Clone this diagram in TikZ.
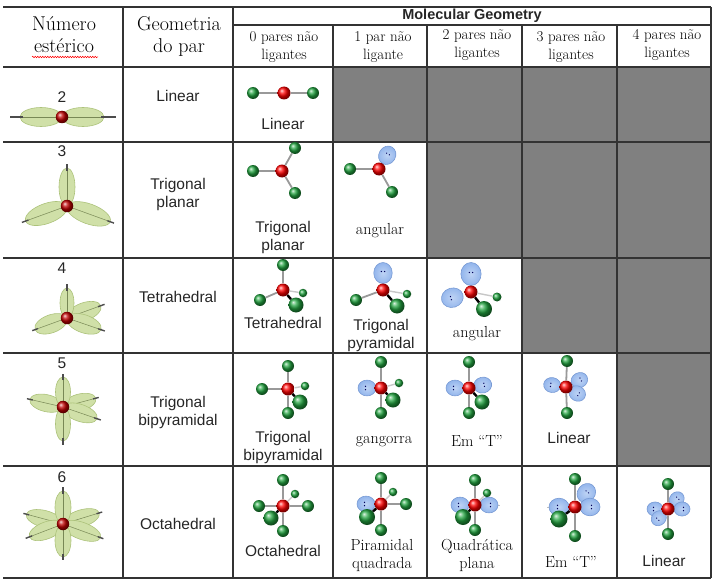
\documentclass[tikz,border=0pt]{standalone}
\usepackage{fontspec}
\newfontfamily\arial{Liberation Sans}
\usetikzlibrary{decorations.pathmorphing}
\definecolor{lobefill}{RGB}{208,224,168}
\definecolor{lobeedge}{RGB}{172,194,122}
\definecolor{atomgreen}{RGB}{34,165,64}
\definecolor{lpfill}{RGB}{146,181,236}
\definecolor{lpedge}{RGB}{120,154,212}
\tikzset{
  grid/.style={line width=1.7pt, black!80},
  blank/.style={fill=black!50},
  big/.style={anchor=base, font=\fontsize{20}{22}\selectfont},
  sub/.style={anchor=base, font=\fontsize{15}{18}\selectfont},
  tx/.style={anchor=base, font=\fontsize{16}{18}\selectfont},
  ar/.style={anchor=base, text=black!85, font=\arial\fontsize{15.5}{18}\selectfont},
  lobe/.style={fill=lobefill, draw=lobeedge, line width=0.6pt},
  lobeaxis/.style={draw=lobeedge!70!black, line width=0.5pt},
  stick/.style={draw=black!70, line width=1.4pt},
  core/.style={circle, inner sep=0pt, minimum size=12.5pt, ball color=red!75!black},
  ra/.style={circle, inner sep=0pt, minimum size=13pt, ball color=red},
  ga/.style={circle, inner sep=0pt, minimum size=#1, ball color=atomgreen},
  ga/.default=12pt,
  bond/.style={draw=black!40, line width=1.8pt},
  back/.style={draw=black!22, line width=1.4pt},
  wedge/.style={draw=black, line width=2.4pt},
  lp/.style={draw=lpedge, line width=0.6pt, inner color=lpfill!60!white, outer color=lpfill},
  lpaxis/.style={draw=black!25, line width=1pt}
}
% flower lobe: [half width] centre, angle, lobe length, stick length
\newcommand\lobe[5][9.5]{%
  \begin{scope}[shift={(#2)}, rotate=#3]
    \draw[lobe] ({#4/2},0) ellipse ({#4/2} and #1);
    \draw[lobeaxis] (0,0) -- (#4-2,0);
    \draw[stick] (#4-3,0) -- (#5,0);
  \end{scope}}
% lone pair: atom, angle, distance, radius
\newcommand\lonep[4]{%
  \begin{scope}[shift={(#1)}, rotate=#2]
    \shadedraw[lp] (#3,0) ellipse (#4 and {0.88*#4});
    \fill[blue!35!black] (#3+1.5,1.6) circle (0.7) (#3+1.5,-1.6) circle (0.7);
  \end{scope}}
% ligands round a centre node
\newcommand\atoms[2]{%
  \foreach \n/\pos/\sz/\bs in {#2} {\node[ga=\sz] (#1\n) at (\pos) {}; \draw[\bs] (#1) -- (#1\n);}}
\begin{document}
\begin{tikzpicture}[x=1pt,y=1pt]
\useasboundingbox (0,0) rectangle (717,-583);
% table
\fill[blank] (333,-67) rectangle (711,-142) (427,-142) rectangle (711,-258)
  (522,-258) rectangle (711,-353) (617,-353) rectangle (711,-466);
\foreach \y in {7,67,142,258,353,466,578} \draw[grid] (3,-\y) -- (711,-\y);
\draw[grid] (233,-25) -- (711,-25);
\foreach \x in {123,233,711} \draw[grid] (\x,-7) -- (\x,-578);
\foreach \x in {333,427,522,617} \draw[grid] (\x,-25) -- (\x,-578);
% header
\node[big] (num) at (64,-31) {Número};
\node[big] (est) at (64,-53) {estérico};
\draw[red, line width=0.5pt, decorate, decoration={snake, amplitude=0.8pt, segment length=2.5pt}] (32,-57) -- (98,-57);
\node[big] (geo) at (179,-31) {Geometria};
\node[big] (par) at (179,-53) {do par};
\node[ar, font=\arial\bfseries\fontsize{14.5}{16}\selectfont] (mol) at (472,-20) {Molecular Geometry};
\foreach \x/\t/\b/\l [count=\i from 0] in {284/0 pares não/42/ligantes, 383/1 par não/42/ligante,
  477/2 pares não/40/ligantes, 571/3 pares não/42/ligantes, 667/4 pares não/40/ligantes} {
  \node[sub] (h\i) at (\x,-\b) {\t};
  \node[sub] (h\i b) at (\x,-\b-18) {\l};}
% steric number column
\lobe{62,-117}{0}{42}{54} \lobe{62,-117}{180}{42}{52}
\node[core] (f2) at (62,-117) {};
\lobe[10]{67,-206}{200}{44}{48} \lobe[10]{67,-206}{-20}{46}{50} \lobe[8]{67,-206}{90}{38}{42}
\node[core] (f3) at (67,-206) {};
\lobe[9]{67,-318}{20}{36}{40} \lobe[9]{67,-318}{-19}{36}{40} \lobe[9]{67,-318}{200}{34}{37} \lobe[7]{67,-318}{90}{30}{34}
\node[core] (f4) at (67,-318) {};
\lobe[8.5]{63,-407}{15}{34}{37} \lobe[8.5]{63,-407}{-19}{36}{40} \lobe[8.5]{63,-407}{167}{34}{37}
\lobe[7.5]{63,-407}{90}{30}{33} \lobe[7.5]{63,-407}{270}{34}{38}
\node[core] (f5) at (63,-407) {};
\lobe[8.5]{63,-524}{17}{38}{41} \lobe[8.5]{63,-524}{-20}{40}{43} \lobe[8.5]{63,-524}{165}{38}{41}
\lobe[8.5]{63,-524}{201}{36}{40} \lobe[8]{63,-524}{90}{33}{37} \lobe[8]{63,-524}{270}{33}{36}
\node[core] (f6) at (63,-524) {};
\foreach \d/\y in {2/103,3/157,4/273,5/368,6/482} \node[ar] (n\d) at (62,-\y) {\d};
% pair geometry column
\node[ar] (g2) at (178,-102) {Linear};
\node[ar] (g3) at (178,-189) {Trigonal};
\node[ar] (g3b) at (178,-207) {planar};
\node[ar] (g4) at (178,-302) {Tetrahedral};
\node[ar] (g5) at (178,-407) {Trigonal};
\node[ar] (g5b) at (178,-425) {bipyramidal};
\node[ar] (g6) at (178,-529) {Octahedral};
% 2 domains
\node[ra] (c20) at (284,-93) {};
\atoms{c20}{a/{253,-93}/12pt/bond, b/{313,-93}/12pt/bond}
\node[ar] (l20) at (283,-130) {Linear};
% 3 domains
\node[ra] (c30) at (282,-171) {};
\atoms{c30}{a/{253,-171}/12pt/bond, b/{295,-148}/12pt/bond, d/{295,-193}/12pt/bond}
\node[ar] (l30) at (283,-232) {Trigonal};
\node[ar] (l30b) at (283,-250) {planar};
\lonep{379,-169}{59}{16}{9.5}
\node[ra] (c31) at (379,-169) {};
\atoms{c31}{a/{350,-169}/12pt/bond, b/{392,-192}/12pt/bond}
\node[tx] (l31) at (380,-234) {angular};
% 4 domains
\node[ra] (c40) at (283,-290) {};
\atoms{c40}{t/{283,-265}/12pt/bond, l/{260,-300}/12pt/bond, k/{303,-293}/8.5pt/back, f/{296,-305}/15pt/wedge}
\node[ar] (l40) at (283,-328) {Tetrahedral};
\lonep{383,-290}{90}{17}{10.5}
\node[ra] (c41) at (383,-290) {};
\atoms{c41}{l/{356,-300}/12pt/bond, k/{407,-294}/8.5pt/back, f/{397,-306}/15pt/wedge}
\node[ar] (l41) at (381,-330) {Trigonal};
\node[ar] (l41b) at (381,-348) {pyramidal};
\lonep{471,-292}{90}{18}{11.5} \lonep{471,-292}{197}{19.5}{11}
\node[ra] (c42) at (471,-292) {};
\atoms{c42}{k/{497,-297}/9pt/back, f/{484,-309}/16pt/wedge}
\node[tx] (l42) at (477,-337) {angular};
% 5 domains
\node[ra] (c50) at (288,-389) {};
\atoms{c50}{t/{288,-366}/12pt/bond, b/{288,-413}/12pt/bond, l/{262,-389}/12pt/bond, k/{305,-386}/8.5pt/back, f/{300,-402}/15pt/wedge}
\node[ar] (l50) at (283,-442) {Trigonal};
\node[ar] (l50b) at (283,-460) {bipyramidal};
\lonep{381,-388}{180}{14}{9}
\node[ra] (c51) at (381,-388) {};
\atoms{c51}{t/{381,-362}/12pt/bond, b/{381,-413}/12pt/bond, k/{399,-383}/8.5pt/back, f/{393,-400}/15pt/wedge}
\node[tx] (l51) at (384,-443) {gangorra};
\lonep{469,-388}{180}{14}{9} \lonep{469,-388}{12}{14}{9}
\node[ra] (c52) at (469,-388) {};
\atoms{c52}{t/{469,-362}/12pt/bond, b/{469,-413}/12pt/bond, f/{482,-402}/15pt/wedge}
\node[tx] (l52) at (477,-446) {Em “T”};
\lonep{566,-387}{172}{14}{8.5} \lonep{566,-387}{27}{15}{8.5} \lonep{566,-387}{-30}{13}{8.5}
\node[ra] (c53) at (566,-387) {};
\atoms{c53}{t/{567,-361}/12pt/bond, b/{567,-413}/12pt/bond}
\node[ar] (l53) at (569,-443) {Linear};
% 6 domains
\node[ra] (c60) at (283,-506) {};
\atoms{c60}{t/{283,-480}/12pt/bond, b/{283,-531}/12pt/bond, l/{259,-506}/12pt/bond, r/{308,-506}/12pt/bond, k/{295,-494}/8.5pt/back, f/{271,-518}/15pt/wedge}
\node[ar] (l60) at (283,-556) {Octahedral};
\lonep{381,-504}{180}{15}{9}
\node[ra] (c61) at (381,-504) {};
\atoms{c61}{t/{381,-478}/12pt/bond, b/{381,-530}/12pt/bond, r/{406,-504}/12pt/bond, k/{393,-492}/8.5pt/back, f/{367,-517}/16pt/wedge}
\node[tx] (l61) at (382,-550) {Piramidal};
\node[tx] (l61b) at (382,-568) {quadrada};
\draw[lpaxis] (452,-505) -- (500,-505);
\lonep{475,-505}{180}{15}{9} \lonep{475,-505}{0}{14}{9}
\node[ra] (c62) at (475,-505) {};
\atoms{c62}{t/{475,-480}/12pt/bond, b/{475,-530}/12pt/bond, k/{487,-493}/8.5pt/back, f/{463,-517}/16pt/wedge}
\node[tx] (l62) at (477,-550) {Quadrática};
\node[tx] (l62b) at (477,-568) {plana};
\draw[lpaxis] (547,-507) -- (600,-507);
\lonep{575,-507}{51}{18}{10} \lonep{575,-507}{180}{16}{10} \lonep{575,-507}{0}{15}{10}
\node[ra] (c63) at (575,-507) {};
\atoms{c63}{t/{575,-479}/12pt/bond, b/{575,-536}/12pt/bond, f/{559,-519}/17pt/wedge}
\node[tx] (l63) at (571,-567) {Em “T”};
\lonep{668,-509}{48}{13}{8} \lonep{668,-509}{0}{14}{8} \lonep{668,-509}{180}{13}{8} \lonep{668,-509}{225}{13}{8}
\node[ra] (c64) at (668,-509) {};
\atoms{c64}{t/{668,-484}/12pt/bond, b/{668,-534}/12pt/bond}
\node[ar] (l64) at (664,-566) {Linear};
\end{tikzpicture}
\end{document}
